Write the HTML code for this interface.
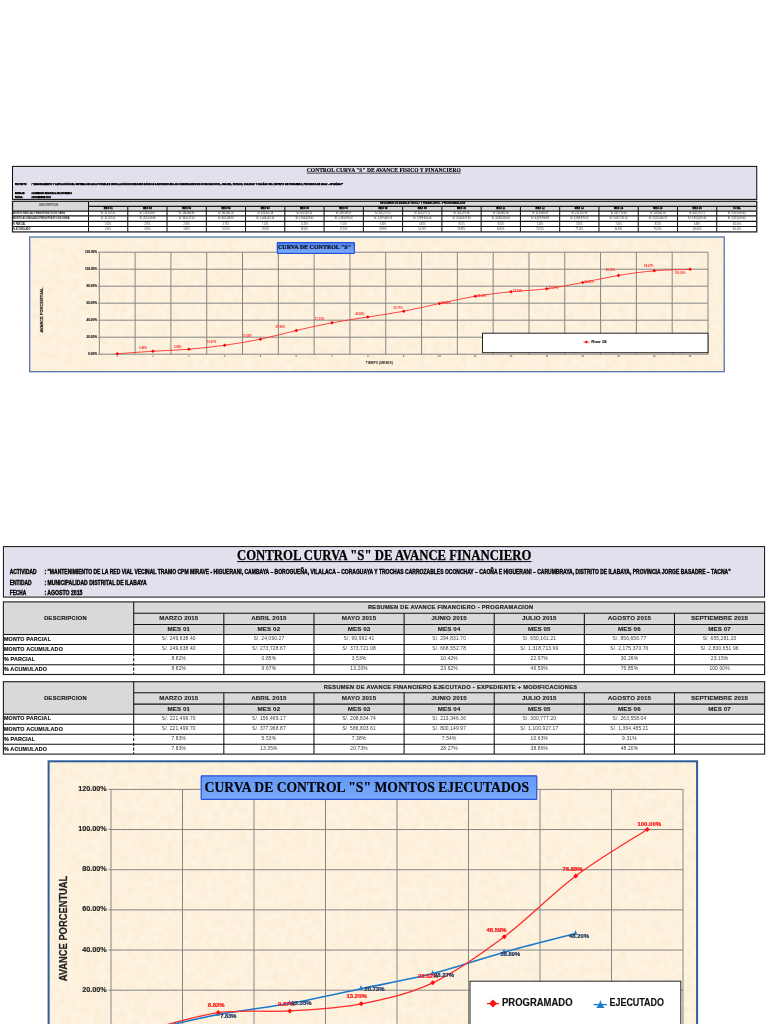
<!DOCTYPE html>
<html lang="es"><head><meta charset="utf-8"><title>CONTROL CURVA "S"</title>
<style>
html,body{margin:0;padding:0;background:#fff;}
body{width:768px;height:1024px;overflow:hidden;position:relative;}
svg{position:absolute;left:0;top:0;display:block;}
.s{font-family:"Liberation Sans", sans-serif;}
.sb{font-family:"Liberation Sans", sans-serif;font-weight:bold;}
.r{font-family:"Liberation Serif", serif;}
.rb{font-family:"Liberation Serif", serif;font-weight:bold;}
</style></head><body>
<svg width="768" height="1024" viewBox="0 0 768 1024">
<defs>
<filter id="tex" x="0" y="0" width="100%" height="100%" color-interpolation-filters="sRGB"><feTurbulence type="fractalNoise" baseFrequency="0.15" numOctaves="3" seed="3"/><feColorMatrix type="matrix" values="0.032 0 0 0 0.976  0.044 0 0 0 0.923  0.06 0 0 0 0.835  0 0 0 0 1"/></filter>
<linearGradient id="tb" x1="0" y1="0" x2="0" y2="1"><stop offset="0" stop-color="#6498F5"/><stop offset="1" stop-color="#78AAFA"/></linearGradient>
<linearGradient id="tb2" x1="0" y1="0" x2="0" y2="1"><stop offset="0" stop-color="#4E84EF"/><stop offset="1" stop-color="#7DAEFB"/></linearGradient>
</defs>
<g id="top-section">
<rect x="12.50" y="166.40" width="744.25" height="33.00" fill="#E4DFEC" stroke="#111" stroke-width="1.05" />
<text class="rb" x="383.80" y="171.90" font-size="5.6" text-anchor="middle" textLength="154.00" lengthAdjust="spacingAndGlyphs"  stroke="#000" stroke-width="0.12">CONTROL CURVA "S" DE AVANCE FISICO Y FINANCIERO</text>
<line x1="306.80" y1="173.15" x2="460.80" y2="173.15" stroke="#111" stroke-width="0.75" />
<text class="sb" x="15.00" y="185.10" font-size="2.7" textLength="11.50" lengthAdjust="spacingAndGlyphs" text-rendering="geometricPrecision" stroke="#000" stroke-width="0.4">PROYECTO</text>
<text class="sb" x="31.00" y="185.10" font-size="2.7" textLength="312.00" lengthAdjust="spacingAndGlyphs" text-rendering="geometricPrecision" stroke="#000" stroke-width="0.4">: "MEJORAMIENTO Y AMPLIACIÓN DEL SISTEMA DE AGUA POTABLE E INSTALACIÓN DE UNIDADES BÁSICAS SANITARIAS EN LAS COMUNIDADES DE CCONCHACCOTA, ANCARA, PATAHUI, CHAHUAY Y HUAÑAC DEL DISTRITO DE PROGRESO, PROVINCIA DE GRAU - APURÍMAC"</text>
<text class="sb" x="15.00" y="193.80" font-size="2.7" textLength="9.50" lengthAdjust="spacingAndGlyphs" text-rendering="geometricPrecision" stroke="#000" stroke-width="0.4">ENTIDAD</text>
<text class="sb" x="31.00" y="193.80" font-size="2.7" textLength="41.00" lengthAdjust="spacingAndGlyphs" text-rendering="geometricPrecision" stroke="#000" stroke-width="0.4">: GOBIERNO REGIONAL DE APURIMAC</text>
<text class="sb" x="15.00" y="198.20" font-size="2.7" textLength="7.50" lengthAdjust="spacingAndGlyphs" text-rendering="geometricPrecision" stroke="#000" stroke-width="0.4">FECHA</text>
<text class="sb" x="31.00" y="198.20" font-size="2.7" textLength="20.00" lengthAdjust="spacingAndGlyphs" text-rendering="geometricPrecision" stroke="#000" stroke-width="0.4">: NOVIEMBRE 2017</text>
<rect x="12.50" y="201.30" width="744.25" height="9.80" fill="#D9D9D9" stroke="none" stroke-width="1" />
<rect x="12.50" y="211.10" width="744.25" height="20.80" fill="#fff" stroke="none" stroke-width="1" />
<line x1="12.50" y1="211.10" x2="756.75" y2="211.10" stroke="#111" stroke-width="1.15" />
<line x1="12.50" y1="215.80" x2="756.75" y2="215.80" stroke="#111" stroke-width="1.15" />
<line x1="12.50" y1="221.30" x2="756.75" y2="221.30" stroke="#111" stroke-width="1.15" />
<line x1="12.50" y1="226.50" x2="756.75" y2="226.50" stroke="#111" stroke-width="1.15" />
<line x1="88.50" y1="206.40" x2="756.75" y2="206.40" stroke="#111" stroke-width="1.15" />
<line x1="88.50" y1="201.30" x2="88.50" y2="231.90" stroke="#111" stroke-width="1.0" />
<line x1="127.77" y1="206.40" x2="127.77" y2="231.90" stroke="#111" stroke-width="1.0" />
<line x1="167.03" y1="206.40" x2="167.03" y2="231.90" stroke="#111" stroke-width="1.0" />
<line x1="206.30" y1="206.40" x2="206.30" y2="231.90" stroke="#111" stroke-width="1.0" />
<line x1="245.56" y1="206.40" x2="245.56" y2="231.90" stroke="#111" stroke-width="1.0" />
<line x1="284.83" y1="206.40" x2="284.83" y2="231.90" stroke="#111" stroke-width="1.0" />
<line x1="324.09" y1="206.40" x2="324.09" y2="231.90" stroke="#111" stroke-width="1.0" />
<line x1="363.36" y1="206.40" x2="363.36" y2="231.90" stroke="#111" stroke-width="1.0" />
<line x1="402.62" y1="206.40" x2="402.62" y2="231.90" stroke="#111" stroke-width="1.0" />
<line x1="441.89" y1="206.40" x2="441.89" y2="231.90" stroke="#111" stroke-width="1.0" />
<line x1="481.16" y1="206.40" x2="481.16" y2="231.90" stroke="#111" stroke-width="1.0" />
<line x1="520.42" y1="206.40" x2="520.42" y2="231.90" stroke="#111" stroke-width="1.0" />
<line x1="559.69" y1="206.40" x2="559.69" y2="231.90" stroke="#111" stroke-width="1.0" />
<line x1="598.95" y1="206.40" x2="598.95" y2="231.90" stroke="#111" stroke-width="1.0" />
<line x1="638.22" y1="206.40" x2="638.22" y2="231.90" stroke="#111" stroke-width="1.0" />
<line x1="677.48" y1="206.40" x2="677.48" y2="231.90" stroke="#111" stroke-width="1.0" />
<line x1="716.75" y1="206.40" x2="716.75" y2="231.90" stroke="#111" stroke-width="1.0" />
<rect x="12.50" y="201.30" width="744.25" height="30.60" fill="none" stroke="#222" stroke-width="1.3" />
<text class="sb" x="48.80" y="206.20" font-size="3" text-anchor="middle" textLength="19.00" lengthAdjust="spacingAndGlyphs" fill="#444" >DESCRIPCION</text>
<text class="sb" x="422.62" y="204.20" font-size="2.9" text-anchor="middle" textLength="85.00" lengthAdjust="spacingAndGlyphs"  stroke="#000" stroke-width="0.2">RESUMEN DE AVANCE FISICO Y FINANCIERO - PROGRAMACION</text>
<text class="sb" x="108.13" y="209.00" font-size="2.8" text-anchor="middle" textLength="9.00" lengthAdjust="spacingAndGlyphs"  stroke="#000" stroke-width="0.25">MES 01</text>
<text class="s" x="108.13" y="213.70" font-size="2.7" text-anchor="middle" textLength="14.69" lengthAdjust="spacingAndGlyphs" fill="#222" >S/. 32,537.01</text>
<text class="s" x="108.13" y="219.40" font-size="2.7" text-anchor="middle" textLength="14.69" lengthAdjust="spacingAndGlyphs" fill="#222" >S/. 32,537.01</text>
<text class="s" x="108.13" y="224.90" font-size="2.7" text-anchor="middle" textLength="6.25" lengthAdjust="spacingAndGlyphs" fill="#333" >0.55%</text>
<text class="s" x="108.13" y="230.30" font-size="2.7" text-anchor="middle" textLength="6.25" lengthAdjust="spacingAndGlyphs" fill="#333" >0.55%</text>
<text class="sb" x="147.40" y="209.00" font-size="2.8" text-anchor="middle" textLength="9.00" lengthAdjust="spacingAndGlyphs"  stroke="#000" stroke-width="0.25">MES 02</text>
<text class="s" x="147.40" y="213.70" font-size="2.7" text-anchor="middle" textLength="15.82" lengthAdjust="spacingAndGlyphs" fill="#222" >S/. 174,516.67</text>
<text class="s" x="147.40" y="219.40" font-size="2.7" text-anchor="middle" textLength="15.82" lengthAdjust="spacingAndGlyphs" fill="#222" >S/. 207,053.68</text>
<text class="s" x="147.40" y="224.90" font-size="2.7" text-anchor="middle" textLength="6.25" lengthAdjust="spacingAndGlyphs" fill="#333" >2.95%</text>
<text class="s" x="147.40" y="230.30" font-size="2.7" text-anchor="middle" textLength="6.25" lengthAdjust="spacingAndGlyphs" fill="#333" >3.50%</text>
<text class="sb" x="186.66" y="209.00" font-size="2.8" text-anchor="middle" textLength="9.00" lengthAdjust="spacingAndGlyphs"  stroke="#000" stroke-width="0.25">MES 03</text>
<text class="s" x="186.66" y="213.70" font-size="2.7" text-anchor="middle" textLength="15.82" lengthAdjust="spacingAndGlyphs" fill="#222" >S/. 136,063.85</text>
<text class="s" x="186.66" y="219.40" font-size="2.7" text-anchor="middle" textLength="15.82" lengthAdjust="spacingAndGlyphs" fill="#222" >S/. 343,117.53</text>
<text class="s" x="186.66" y="224.90" font-size="2.7" text-anchor="middle" textLength="6.25" lengthAdjust="spacingAndGlyphs" fill="#333" >2.30%</text>
<text class="s" x="186.66" y="230.30" font-size="2.7" text-anchor="middle" textLength="6.25" lengthAdjust="spacingAndGlyphs" fill="#333" >5.80%</text>
<text class="sb" x="225.93" y="209.00" font-size="2.8" text-anchor="middle" textLength="9.00" lengthAdjust="spacingAndGlyphs"  stroke="#000" stroke-width="0.25">MES 04</text>
<text class="s" x="225.93" y="213.70" font-size="2.7" text-anchor="middle" textLength="15.82" lengthAdjust="spacingAndGlyphs" fill="#222" >S/. 281,001.42</text>
<text class="s" x="225.93" y="219.40" font-size="2.7" text-anchor="middle" textLength="15.82" lengthAdjust="spacingAndGlyphs" fill="#222" >S/. 624,118.95</text>
<text class="s" x="225.93" y="224.90" font-size="2.7" text-anchor="middle" textLength="6.25" lengthAdjust="spacingAndGlyphs" fill="#333" >4.75%</text>
<text class="s" x="225.93" y="230.30" font-size="2.7" text-anchor="middle" textLength="7.50" lengthAdjust="spacingAndGlyphs" fill="#333" >10.55%</text>
<text class="sb" x="265.20" y="209.00" font-size="2.8" text-anchor="middle" textLength="9.00" lengthAdjust="spacingAndGlyphs"  stroke="#000" stroke-width="0.25">MES 05</text>
<text class="s" x="265.20" y="213.70" font-size="2.7" text-anchor="middle" textLength="15.82" lengthAdjust="spacingAndGlyphs" fill="#222" >S/. 420,023.18</text>
<text class="s" x="265.20" y="219.40" font-size="2.7" text-anchor="middle" textLength="18.08" lengthAdjust="spacingAndGlyphs" fill="#222" >S/. 1,044,142.13</text>
<text class="s" x="265.20" y="224.90" font-size="2.7" text-anchor="middle" textLength="6.25" lengthAdjust="spacingAndGlyphs" fill="#333" >7.10%</text>
<text class="s" x="265.20" y="230.30" font-size="2.7" text-anchor="middle" textLength="7.50" lengthAdjust="spacingAndGlyphs" fill="#333" >17.65%</text>
<text class="sb" x="304.46" y="209.00" font-size="2.8" text-anchor="middle" textLength="9.00" lengthAdjust="spacingAndGlyphs"  stroke="#000" stroke-width="0.25">MES 06</text>
<text class="s" x="304.46" y="213.70" font-size="2.7" text-anchor="middle" textLength="15.82" lengthAdjust="spacingAndGlyphs" fill="#222" >S/. 612,287.31</text>
<text class="s" x="304.46" y="219.40" font-size="2.7" text-anchor="middle" textLength="18.08" lengthAdjust="spacingAndGlyphs" fill="#222" >S/. 1,656,429.45</text>
<text class="s" x="304.46" y="224.90" font-size="2.7" text-anchor="middle" textLength="7.50" lengthAdjust="spacingAndGlyphs" fill="#333" >10.35%</text>
<text class="s" x="304.46" y="230.30" font-size="2.7" text-anchor="middle" textLength="7.50" lengthAdjust="spacingAndGlyphs" fill="#333" >28.00%</text>
<text class="sb" x="343.73" y="209.00" font-size="2.8" text-anchor="middle" textLength="9.00" lengthAdjust="spacingAndGlyphs"  stroke="#000" stroke-width="0.25">MES 07</text>
<text class="s" x="343.73" y="213.70" font-size="2.7" text-anchor="middle" textLength="15.82" lengthAdjust="spacingAndGlyphs" fill="#222" >S/. 538,339.57</text>
<text class="s" x="343.73" y="219.40" font-size="2.7" text-anchor="middle" textLength="18.08" lengthAdjust="spacingAndGlyphs" fill="#222" >S/. 2,194,769.02</text>
<text class="s" x="343.73" y="224.90" font-size="2.7" text-anchor="middle" textLength="6.25" lengthAdjust="spacingAndGlyphs" fill="#333" >9.10%</text>
<text class="s" x="343.73" y="230.30" font-size="2.7" text-anchor="middle" textLength="7.50" lengthAdjust="spacingAndGlyphs" fill="#333" >37.10%</text>
<text class="sb" x="382.99" y="209.00" font-size="2.8" text-anchor="middle" textLength="9.00" lengthAdjust="spacingAndGlyphs"  stroke="#000" stroke-width="0.25">MES 08</text>
<text class="s" x="382.99" y="213.70" font-size="2.7" text-anchor="middle" textLength="15.82" lengthAdjust="spacingAndGlyphs" fill="#222" >S/. 402,275.72</text>
<text class="s" x="382.99" y="219.40" font-size="2.7" text-anchor="middle" textLength="18.08" lengthAdjust="spacingAndGlyphs" fill="#222" >S/. 2,597,044.74</text>
<text class="s" x="382.99" y="224.90" font-size="2.7" text-anchor="middle" textLength="6.25" lengthAdjust="spacingAndGlyphs" fill="#333" >6.80%</text>
<text class="s" x="382.99" y="230.30" font-size="2.7" text-anchor="middle" textLength="7.50" lengthAdjust="spacingAndGlyphs" fill="#333" >43.90%</text>
<text class="sb" x="422.26" y="209.00" font-size="2.8" text-anchor="middle" textLength="9.00" lengthAdjust="spacingAndGlyphs"  stroke="#000" stroke-width="0.25">MES 09</text>
<text class="s" x="422.26" y="213.70" font-size="2.7" text-anchor="middle" textLength="15.82" lengthAdjust="spacingAndGlyphs" fill="#222" >S/. 402,275.72</text>
<text class="s" x="422.26" y="219.40" font-size="2.7" text-anchor="middle" textLength="18.08" lengthAdjust="spacingAndGlyphs" fill="#222" >S/. 2,999,320.46</text>
<text class="s" x="422.26" y="224.90" font-size="2.7" text-anchor="middle" textLength="6.25" lengthAdjust="spacingAndGlyphs" fill="#333" >6.80%</text>
<text class="s" x="422.26" y="230.30" font-size="2.7" text-anchor="middle" textLength="7.50" lengthAdjust="spacingAndGlyphs" fill="#333" >50.70%</text>
<text class="sb" x="461.52" y="209.00" font-size="2.8" text-anchor="middle" textLength="9.00" lengthAdjust="spacingAndGlyphs"  stroke="#000" stroke-width="0.25">MES 10</text>
<text class="s" x="461.52" y="213.70" font-size="2.7" text-anchor="middle" textLength="15.82" lengthAdjust="spacingAndGlyphs" fill="#222" >S/. 541,297.48</text>
<text class="s" x="461.52" y="219.40" font-size="2.7" text-anchor="middle" textLength="18.08" lengthAdjust="spacingAndGlyphs" fill="#222" >S/. 3,540,617.94</text>
<text class="s" x="461.52" y="224.90" font-size="2.7" text-anchor="middle" textLength="6.25" lengthAdjust="spacingAndGlyphs" fill="#333" >9.15%</text>
<text class="s" x="461.52" y="230.30" font-size="2.7" text-anchor="middle" textLength="7.50" lengthAdjust="spacingAndGlyphs" fill="#333" >59.85%</text>
<text class="sb" x="500.79" y="209.00" font-size="2.8" text-anchor="middle" textLength="9.00" lengthAdjust="spacingAndGlyphs"  stroke="#000" stroke-width="0.25">MES 11</text>
<text class="s" x="500.79" y="213.70" font-size="2.7" text-anchor="middle" textLength="15.82" lengthAdjust="spacingAndGlyphs" fill="#222" >S/. 505,802.56</text>
<text class="s" x="500.79" y="219.40" font-size="2.7" text-anchor="middle" textLength="18.08" lengthAdjust="spacingAndGlyphs" fill="#222" >S/. 4,046,420.50</text>
<text class="s" x="500.79" y="224.90" font-size="2.7" text-anchor="middle" textLength="6.25" lengthAdjust="spacingAndGlyphs" fill="#333" >8.55%</text>
<text class="s" x="500.79" y="230.30" font-size="2.7" text-anchor="middle" textLength="7.50" lengthAdjust="spacingAndGlyphs" fill="#333" >68.40%</text>
<text class="sb" x="540.05" y="209.00" font-size="2.8" text-anchor="middle" textLength="9.00" lengthAdjust="spacingAndGlyphs"  stroke="#000" stroke-width="0.25">MES 12</text>
<text class="s" x="540.05" y="213.70" font-size="2.7" text-anchor="middle" textLength="15.82" lengthAdjust="spacingAndGlyphs" fill="#222" >S/. 313,538.43</text>
<text class="s" x="540.05" y="219.40" font-size="2.7" text-anchor="middle" textLength="18.08" lengthAdjust="spacingAndGlyphs" fill="#222" >S/. 4,359,958.93</text>
<text class="s" x="540.05" y="224.90" font-size="2.7" text-anchor="middle" textLength="6.25" lengthAdjust="spacingAndGlyphs" fill="#333" >5.30%</text>
<text class="s" x="540.05" y="230.30" font-size="2.7" text-anchor="middle" textLength="7.50" lengthAdjust="spacingAndGlyphs" fill="#333" >73.70%</text>
<text class="sb" x="579.32" y="209.00" font-size="2.8" text-anchor="middle" textLength="9.00" lengthAdjust="spacingAndGlyphs"  stroke="#000" stroke-width="0.25">MES 13</text>
<text class="s" x="579.32" y="213.70" font-size="2.7" text-anchor="middle" textLength="15.82" lengthAdjust="spacingAndGlyphs" fill="#222" >S/. 210,011.59</text>
<text class="s" x="579.32" y="219.40" font-size="2.7" text-anchor="middle" textLength="18.08" lengthAdjust="spacingAndGlyphs" fill="#222" >S/. 4,569,970.53</text>
<text class="s" x="579.32" y="224.90" font-size="2.7" text-anchor="middle" textLength="6.25" lengthAdjust="spacingAndGlyphs" fill="#333" >3.55%</text>
<text class="s" x="579.32" y="230.30" font-size="2.7" text-anchor="middle" textLength="7.50" lengthAdjust="spacingAndGlyphs" fill="#333" >77.25%</text>
<text class="sb" x="618.59" y="209.00" font-size="2.8" text-anchor="middle" textLength="9.00" lengthAdjust="spacingAndGlyphs"  stroke="#000" stroke-width="0.25">MES 14</text>
<text class="s" x="618.59" y="213.70" font-size="2.7" text-anchor="middle" textLength="15.82" lengthAdjust="spacingAndGlyphs" fill="#222" >S/. 437,770.64</text>
<text class="s" x="618.59" y="219.40" font-size="2.7" text-anchor="middle" textLength="18.08" lengthAdjust="spacingAndGlyphs" fill="#222" >S/. 5,007,741.16</text>
<text class="s" x="618.59" y="224.90" font-size="2.7" text-anchor="middle" textLength="6.25" lengthAdjust="spacingAndGlyphs" fill="#333" >7.40%</text>
<text class="s" x="618.59" y="230.30" font-size="2.7" text-anchor="middle" textLength="7.50" lengthAdjust="spacingAndGlyphs" fill="#333" >84.65%</text>
<text class="sb" x="657.85" y="209.00" font-size="2.8" text-anchor="middle" textLength="9.00" lengthAdjust="spacingAndGlyphs"  stroke="#000" stroke-width="0.25">MES 15</text>
<text class="s" x="657.85" y="213.70" font-size="2.7" text-anchor="middle" textLength="15.82" lengthAdjust="spacingAndGlyphs" fill="#222" >S/. 505,802.56</text>
<text class="s" x="657.85" y="219.40" font-size="2.7" text-anchor="middle" textLength="18.08" lengthAdjust="spacingAndGlyphs" fill="#222" >S/. 5,513,543.73</text>
<text class="s" x="657.85" y="224.90" font-size="2.7" text-anchor="middle" textLength="6.25" lengthAdjust="spacingAndGlyphs" fill="#333" >8.55%</text>
<text class="s" x="657.85" y="230.30" font-size="2.7" text-anchor="middle" textLength="7.50" lengthAdjust="spacingAndGlyphs" fill="#333" >93.20%</text>
<text class="sb" x="697.12" y="209.00" font-size="2.8" text-anchor="middle" textLength="9.00" lengthAdjust="spacingAndGlyphs"  stroke="#000" stroke-width="0.25">MES 16</text>
<text class="s" x="697.12" y="213.70" font-size="2.7" text-anchor="middle" textLength="15.82" lengthAdjust="spacingAndGlyphs" fill="#222" >S/. 402,275.72</text>
<text class="s" x="697.12" y="219.40" font-size="2.7" text-anchor="middle" textLength="18.08" lengthAdjust="spacingAndGlyphs" fill="#222" >S/. 5,915,819.45</text>
<text class="s" x="697.12" y="224.90" font-size="2.7" text-anchor="middle" textLength="6.25" lengthAdjust="spacingAndGlyphs" fill="#333" >6.80%</text>
<text class="s" x="697.12" y="230.30" font-size="2.7" text-anchor="middle" textLength="8.75" lengthAdjust="spacingAndGlyphs" fill="#333" >100.00%</text>
<text class="sb" x="736.75" y="209.00" font-size="2.8" text-anchor="middle" textLength="8.00" lengthAdjust="spacingAndGlyphs"  stroke="#000" stroke-width="0.25">TOTAL</text>
<text class="s" x="736.75" y="213.70" font-size="2.7" text-anchor="middle" textLength="18.08" lengthAdjust="spacingAndGlyphs" fill="#222" >S/. 5,915,819.45</text>
<text class="s" x="736.75" y="219.40" font-size="2.7" text-anchor="middle" textLength="18.08" lengthAdjust="spacingAndGlyphs" fill="#222" >S/. 5,915,819.45</text>
<text class="s" x="736.75" y="224.90" font-size="2.7" text-anchor="middle" textLength="8.75" lengthAdjust="spacingAndGlyphs" fill="#333" >100.00%</text>
<text class="s" x="736.75" y="230.30" font-size="2.7" text-anchor="middle" textLength="8.75" lengthAdjust="spacingAndGlyphs" fill="#333" >100.00%</text>
<text class="sb" x="13.00" y="213.70" font-size="2.8" textLength="52.00" lengthAdjust="spacingAndGlyphs" fill="#222" >MONTO PARCIAL PRESUPUESTO DE OBRA</text>
<text class="sb" x="13.00" y="219.40" font-size="2.8" textLength="56.50" lengthAdjust="spacingAndGlyphs" fill="#222" >MONTO ACUMULADO PRESUPUESTO DE OBRA</text>
<text class="sb" x="13.00" y="224.90" font-size="2.8" textLength="12.50" lengthAdjust="spacingAndGlyphs" fill="#222" >% PARCIAL</text>
<text class="sb" x="13.00" y="230.30" font-size="2.8" textLength="17.50" lengthAdjust="spacingAndGlyphs" fill="#222" >% ACUMULADO</text>
<rect x="29.70" y="237.00" width="694.50" height="134.70" fill="#FDF1DC" stroke="none" stroke-width="1" />
<rect x="29.70" y="237.00" width="694.50" height="134.70" fill="#fff" stroke="none" stroke-width="0" filter="url(#tex)"/>
<rect x="29.70" y="237.00" width="694.50" height="134.70" fill="none" stroke="#4C72A8" stroke-width="1.25" />
<line x1="98.10" y1="252.20" x2="708.00" y2="252.20" stroke="#868686" stroke-width="1.0" />
<text class="sb" x="97.00" y="253.30" font-size="3" text-anchor="end" textLength="12.00" lengthAdjust="spacingAndGlyphs" fill="#333"  stroke="#333" stroke-width="0.15">120.00%</text>
<line x1="98.10" y1="269.20" x2="708.00" y2="269.20" stroke="#868686" stroke-width="1.0" />
<text class="sb" x="97.00" y="270.30" font-size="3" text-anchor="end" textLength="12.00" lengthAdjust="spacingAndGlyphs" fill="#333"  stroke="#333" stroke-width="0.15">100.00%</text>
<line x1="98.10" y1="286.20" x2="708.00" y2="286.20" stroke="#868686" stroke-width="1.0" />
<text class="sb" x="97.00" y="287.30" font-size="3" text-anchor="end" textLength="10.50" lengthAdjust="spacingAndGlyphs" fill="#333"  stroke="#333" stroke-width="0.15">80.00%</text>
<line x1="98.10" y1="303.20" x2="708.00" y2="303.20" stroke="#868686" stroke-width="1.0" />
<text class="sb" x="97.00" y="304.30" font-size="3" text-anchor="end" textLength="10.50" lengthAdjust="spacingAndGlyphs" fill="#333"  stroke="#333" stroke-width="0.15">60.00%</text>
<line x1="98.10" y1="320.20" x2="708.00" y2="320.20" stroke="#868686" stroke-width="1.0" />
<text class="sb" x="97.00" y="321.30" font-size="3" text-anchor="end" textLength="10.50" lengthAdjust="spacingAndGlyphs" fill="#333"  stroke="#333" stroke-width="0.15">40.00%</text>
<line x1="98.10" y1="337.20" x2="708.00" y2="337.20" stroke="#868686" stroke-width="1.0" />
<text class="sb" x="97.00" y="338.30" font-size="3" text-anchor="end" textLength="10.50" lengthAdjust="spacingAndGlyphs" fill="#333"  stroke="#333" stroke-width="0.15">20.00%</text>
<line x1="98.10" y1="354.20" x2="708.00" y2="354.20" stroke="#868686" stroke-width="1.0" />
<text class="sb" x="97.00" y="355.30" font-size="3" text-anchor="end" textLength="9.00" lengthAdjust="spacingAndGlyphs" fill="#333"  stroke="#333" stroke-width="0.15">0.00%</text>
<line x1="99.30" y1="252.20" x2="99.30" y2="354.60" stroke="#868686" stroke-width="1.0" />
<line x1="135.11" y1="252.20" x2="135.11" y2="354.60" stroke="#868686" stroke-width="1.0" />
<line x1="170.91" y1="252.20" x2="170.91" y2="354.60" stroke="#868686" stroke-width="1.0" />
<line x1="206.72" y1="252.20" x2="206.72" y2="354.60" stroke="#868686" stroke-width="1.0" />
<line x1="242.52" y1="252.20" x2="242.52" y2="354.60" stroke="#868686" stroke-width="1.0" />
<line x1="278.33" y1="252.20" x2="278.33" y2="354.60" stroke="#868686" stroke-width="1.0" />
<line x1="314.14" y1="252.20" x2="314.14" y2="354.60" stroke="#868686" stroke-width="1.0" />
<line x1="349.94" y1="252.20" x2="349.94" y2="354.60" stroke="#868686" stroke-width="1.0" />
<line x1="385.75" y1="252.20" x2="385.75" y2="354.60" stroke="#868686" stroke-width="1.0" />
<line x1="421.55" y1="252.20" x2="421.55" y2="354.60" stroke="#868686" stroke-width="1.0" />
<line x1="457.36" y1="252.20" x2="457.36" y2="354.60" stroke="#868686" stroke-width="1.0" />
<line x1="493.16" y1="252.20" x2="493.16" y2="354.60" stroke="#868686" stroke-width="1.0" />
<line x1="528.97" y1="252.20" x2="528.97" y2="354.60" stroke="#868686" stroke-width="1.0" />
<line x1="564.78" y1="252.20" x2="564.78" y2="354.60" stroke="#868686" stroke-width="1.0" />
<line x1="600.58" y1="252.20" x2="600.58" y2="354.60" stroke="#868686" stroke-width="1.0" />
<line x1="636.39" y1="252.20" x2="636.39" y2="354.60" stroke="#868686" stroke-width="1.0" />
<line x1="672.19" y1="252.20" x2="672.19" y2="354.60" stroke="#868686" stroke-width="1.0" />
<line x1="708.00" y1="252.20" x2="708.00" y2="354.60" stroke="#868686" stroke-width="1.0" />
<text class="sb" x="117.20" y="357.10" font-size="2.4" text-anchor="middle" fill="#444" text-rendering="geometricPrecision">1</text>
<text class="sb" x="153.01" y="357.10" font-size="2.4" text-anchor="middle" fill="#444" text-rendering="geometricPrecision">2</text>
<text class="sb" x="188.81" y="357.10" font-size="2.4" text-anchor="middle" fill="#444" text-rendering="geometricPrecision">3</text>
<text class="sb" x="224.62" y="357.10" font-size="2.4" text-anchor="middle" fill="#444" text-rendering="geometricPrecision">4</text>
<text class="sb" x="260.43" y="357.10" font-size="2.4" text-anchor="middle" fill="#444" text-rendering="geometricPrecision">5</text>
<text class="sb" x="296.23" y="357.10" font-size="2.4" text-anchor="middle" fill="#444" text-rendering="geometricPrecision">6</text>
<text class="sb" x="332.04" y="357.10" font-size="2.4" text-anchor="middle" fill="#444" text-rendering="geometricPrecision">7</text>
<text class="sb" x="367.84" y="357.10" font-size="2.4" text-anchor="middle" fill="#444" text-rendering="geometricPrecision">8</text>
<text class="sb" x="403.65" y="357.10" font-size="2.4" text-anchor="middle" fill="#444" text-rendering="geometricPrecision">9</text>
<text class="sb" x="439.46" y="357.10" font-size="2.4" text-anchor="middle" fill="#444" text-rendering="geometricPrecision">10</text>
<text class="sb" x="475.26" y="357.10" font-size="2.4" text-anchor="middle" fill="#444" text-rendering="geometricPrecision">11</text>
<text class="sb" x="511.07" y="357.10" font-size="2.4" text-anchor="middle" fill="#444" text-rendering="geometricPrecision">12</text>
<text class="sb" x="546.87" y="357.10" font-size="2.4" text-anchor="middle" fill="#444" text-rendering="geometricPrecision">13</text>
<text class="sb" x="582.68" y="357.10" font-size="2.4" text-anchor="middle" fill="#444" text-rendering="geometricPrecision">14</text>
<text class="sb" x="618.49" y="357.10" font-size="2.4" text-anchor="middle" fill="#444" text-rendering="geometricPrecision">15</text>
<text class="sb" x="654.29" y="357.10" font-size="2.4" text-anchor="middle" fill="#444" text-rendering="geometricPrecision">16</text>
<text class="sb" x="690.10" y="357.10" font-size="2.4" text-anchor="middle" fill="#444" text-rendering="geometricPrecision">17</text>
<text class="sb" x="379.30" y="363.80" font-size="3.2" text-anchor="middle" textLength="27.00" lengthAdjust="spacingAndGlyphs" fill="#222" >TIEMPO (MESES)</text>
<text class="sb" font-size="3.8" fill="#222" stroke="#222" stroke-width="0.2" text-anchor="middle" textLength="45" lengthAdjust="spacingAndGlyphs" transform="translate(42.8,310) rotate(-90)">AVANCE PORCENTUAL</text>
<rect x="482.50" y="333.20" width="225.50" height="19.50" fill="#fff" stroke="#222" stroke-width="1.0" />
<rect x="277.30" y="242.70" width="77.10" height="10.70" fill="url(#tb2)" stroke="#2450DA" stroke-width="1.2" rx="0.6"/>
<text class="rb" x="278.00" y="248.70" font-size="6.2" textLength="73.00" lengthAdjust="spacingAndGlyphs" fill="#0a0a14"  stroke="#0a0a14" stroke-width="0.18">CURVA DE CONTROL "S"</text>
<path d="M117.20,353.75 C123.17,353.33 141.07,352.00 153.01,351.25 C164.94,350.50 176.88,350.25 188.81,349.25 C200.75,348.25 212.69,346.92 224.62,345.25 C236.56,343.58 248.49,341.71 260.43,339.25 C272.36,336.79 284.30,333.25 296.23,330.50 C308.17,327.75 320.10,325.00 332.04,322.75 C343.97,320.50 355.91,318.92 367.84,317.00 C379.78,315.08 391.71,313.50 403.65,311.25 C415.59,309.00 427.52,306.00 439.46,303.50 C451.39,301.00 463.33,298.21 475.26,296.25 C487.20,294.29 499.13,293.00 511.07,291.75 C523.00,290.50 534.94,290.29 546.87,288.75 C558.81,287.21 570.74,284.73 582.68,282.50 C594.61,280.27 606.55,277.35 618.49,275.40 C630.42,273.45 642.36,271.82 654.29,270.80 C666.23,269.78 684.13,269.55 690.10,269.30" fill="none" stroke="#FF1A1A" stroke-width="0.8"/>
<path d="M117.20,351.95 L119.00,353.75 L117.20,355.55 L115.40,353.75Z" fill="#FF0000"/>
<path d="M153.01,349.45 L154.81,351.25 L153.01,353.05 L151.21,351.25Z" fill="#FF0000"/>
<path d="M188.81,347.45 L190.61,349.25 L188.81,351.05 L187.01,349.25Z" fill="#FF0000"/>
<path d="M224.62,343.45 L226.42,345.25 L224.62,347.05 L222.82,345.25Z" fill="#FF0000"/>
<path d="M260.43,337.45 L262.23,339.25 L260.43,341.05 L258.63,339.25Z" fill="#FF0000"/>
<path d="M296.23,328.70 L298.03,330.50 L296.23,332.30 L294.43,330.50Z" fill="#FF0000"/>
<path d="M332.04,320.95 L333.84,322.75 L332.04,324.55 L330.24,322.75Z" fill="#FF0000"/>
<path d="M367.84,315.20 L369.64,317.00 L367.84,318.80 L366.04,317.00Z" fill="#FF0000"/>
<path d="M403.65,309.45 L405.45,311.25 L403.65,313.05 L401.85,311.25Z" fill="#FF0000"/>
<path d="M439.46,301.70 L441.26,303.50 L439.46,305.30 L437.66,303.50Z" fill="#FF0000"/>
<path d="M475.26,294.45 L477.06,296.25 L475.26,298.05 L473.46,296.25Z" fill="#FF0000"/>
<path d="M511.07,289.95 L512.87,291.75 L511.07,293.55 L509.27,291.75Z" fill="#FF0000"/>
<path d="M546.87,286.95 L548.67,288.75 L546.87,290.55 L545.07,288.75Z" fill="#FF0000"/>
<path d="M582.68,280.70 L584.48,282.50 L582.68,284.30 L580.88,282.50Z" fill="#FF0000"/>
<path d="M618.49,273.60 L620.29,275.40 L618.49,277.20 L616.69,275.40Z" fill="#FF0000"/>
<path d="M654.29,269.00 L656.09,270.80 L654.29,272.60 L652.49,270.80Z" fill="#FF0000"/>
<path d="M690.10,267.50 L691.90,269.30 L690.10,271.10 L688.30,269.30Z" fill="#FF0000"/>
<text class="sb" x="143.01" y="348.90" font-size="2.6" text-anchor="middle" textLength="7.75" lengthAdjust="spacingAndGlyphs" fill="#FF2828" >3.48%</text>
<text class="sb" x="177.81" y="347.90" font-size="2.6" text-anchor="middle" textLength="7.75" lengthAdjust="spacingAndGlyphs" fill="#FF2828" >5.84%</text>
<text class="sb" x="211.62" y="342.90" font-size="2.6" text-anchor="middle" textLength="9.30" lengthAdjust="spacingAndGlyphs" fill="#FF2828" >10.57%</text>
<text class="sb" x="247.18" y="337.40" font-size="2.6" text-anchor="middle" textLength="9.30" lengthAdjust="spacingAndGlyphs" fill="#FF2828" >17.65%</text>
<text class="sb" x="280.23" y="328.40" font-size="2.6" text-anchor="middle" textLength="9.30" lengthAdjust="spacingAndGlyphs" fill="#FF2828" >27.98%</text>
<text class="sb" x="319.54" y="320.40" font-size="2.6" text-anchor="middle" textLength="9.30" lengthAdjust="spacingAndGlyphs" fill="#FF2828" >37.13%</text>
<text class="sb" x="359.84" y="315.40" font-size="2.6" text-anchor="middle" textLength="9.30" lengthAdjust="spacingAndGlyphs" fill="#FF2828" >43.92%</text>
<text class="sb" x="398.15" y="308.90" font-size="2.6" text-anchor="middle" textLength="9.30" lengthAdjust="spacingAndGlyphs" fill="#FF2828" >50.71%</text>
<text class="sb" x="445.96" y="304.20" font-size="2.6" text-anchor="middle" textLength="9.30" lengthAdjust="spacingAndGlyphs" fill="#FF2828" >59.86%</text>
<text class="sb" x="481.76" y="296.95" font-size="2.6" text-anchor="middle" textLength="9.30" lengthAdjust="spacingAndGlyphs" fill="#FF2828" >68.42%</text>
<text class="sb" x="517.57" y="292.45" font-size="2.6" text-anchor="middle" textLength="9.30" lengthAdjust="spacingAndGlyphs" fill="#FF2828" >73.73%</text>
<text class="sb" x="553.37" y="289.45" font-size="2.6" text-anchor="middle" textLength="9.30" lengthAdjust="spacingAndGlyphs" fill="#FF2828" >77.27%</text>
<text class="sb" x="589.18" y="283.20" font-size="2.6" text-anchor="middle" textLength="9.30" lengthAdjust="spacingAndGlyphs" fill="#FF2828" >84.65%</text>
<text class="sb" x="610.49" y="270.90" font-size="2.6" text-anchor="middle" textLength="9.30" lengthAdjust="spacingAndGlyphs" fill="#FF2828" >93.03%</text>
<text class="sb" x="648.79" y="266.70" font-size="2.6" text-anchor="middle" textLength="9.30" lengthAdjust="spacingAndGlyphs" fill="#FF2828" >98.47%</text>
<text class="sb" x="680.10" y="274.00" font-size="2.6" text-anchor="middle" textLength="10.85" lengthAdjust="spacingAndGlyphs" fill="#FF2828" >100.00%</text>
<line x1="583.40" y1="342.10" x2="589.40" y2="342.10" stroke="#FF0000" stroke-width="0.7" />
<path d="M586.40,340.60 L587.90,342.10 L586.40,343.60 L584.90,342.10Z" fill="#FF0000"/>
<text class="sb" x="591.20" y="343.20" font-size="4.2" textLength="15.50" lengthAdjust="spacingAndGlyphs" fill="#222"  stroke="#222" stroke-width="0.15">Row 16</text>
</g>
<g id="bottom-section">
<rect x="3.40" y="546.60" width="761.20" height="50.50" fill="#E4DFEC" stroke="#111" stroke-width="1.0" />
<text class="rb" x="384.20" y="559.80" font-size="13.6" text-anchor="middle" textLength="294.50" lengthAdjust="spacingAndGlyphs"  stroke="#000" stroke-width="0.25">CONTROL CURVA "S" DE AVANCE FINANCIERO</text>
<line x1="237.00" y1="561.60" x2="531.50" y2="561.60" stroke="#000" stroke-width="1.0" />
<text class="sb" x="9.75" y="574.30" font-size="6.4" textLength="26.80" lengthAdjust="spacingAndGlyphs"  stroke="#000" stroke-width="0.38">ACTIVIDAD</text>
<text class="sb" x="44.40" y="574.30" font-size="6.4" textLength="686.20" lengthAdjust="spacingAndGlyphs"  stroke="#000" stroke-width="0.38">: "MANTENIMIENTO DE LA RED VIAL VECINAL TRAMO CPM MIRAVE - HIGUERANI, CAMBAYA – BOROGUEÑA, VILALACA – CORAGUAYA Y TROCHAS CARROZABLES OCONCHAY – CAOÑA E HIGUERANI – CARUMBRAYA, DISTRITO DE ILABAYA, PROVINCIA JORGE BASADRE – TACNA"</text>
<text class="sb" x="9.75" y="585.00" font-size="6.4" textLength="21.80" lengthAdjust="spacingAndGlyphs"  stroke="#000" stroke-width="0.38">ENTIDAD</text>
<text class="sb" x="44.40" y="585.00" font-size="6.4" textLength="102.30" lengthAdjust="spacingAndGlyphs"  stroke="#000" stroke-width="0.38">: MUNICIPALIDAD DISTRITAL DE ILABAYA</text>
<text class="sb" x="9.75" y="595.20" font-size="6.4" textLength="16.50" lengthAdjust="spacingAndGlyphs"  stroke="#000" stroke-width="0.38">FECHA</text>
<text class="sb" x="44.40" y="595.20" font-size="6.4" textLength="38.00" lengthAdjust="spacingAndGlyphs"  stroke="#000" stroke-width="0.38">: AGOSTO 2015</text>
<rect x="3.40" y="601.90" width="761.20" height="32.55" fill="#D9D9D9" stroke="none" stroke-width="1" />
<rect x="3.40" y="634.45" width="761.20" height="40.05" fill="#fff" stroke="none" stroke-width="1" />
<line x1="3.40" y1="634.45" x2="764.60" y2="634.45" stroke="#111" stroke-width="1.05" />
<line x1="3.40" y1="644.45" x2="764.60" y2="644.45" stroke="#111" stroke-width="1.05" />
<line x1="3.40" y1="654.40" x2="764.60" y2="654.40" stroke="#111" stroke-width="1.05" />
<line x1="3.40" y1="664.70" x2="764.60" y2="664.70" stroke="#111" stroke-width="1.05" />
<line x1="133.70" y1="613.20" x2="764.60" y2="613.20" stroke="#111" stroke-width="1.05" />
<line x1="133.70" y1="624.45" x2="764.60" y2="624.45" stroke="#111" stroke-width="1.05" />
<line x1="133.70" y1="601.90" x2="133.70" y2="654.40" stroke="#111" stroke-width="1.05" />
<line x1="133.70" y1="654.40" x2="133.70" y2="674.50" stroke="#111" stroke-width="1.05" stroke-dasharray="3.2 1.6" stroke-dashoffset="1.2"/>
<line x1="223.83" y1="613.20" x2="223.83" y2="674.50" stroke="#111" stroke-width="1.05" />
<line x1="313.96" y1="613.20" x2="313.96" y2="674.50" stroke="#111" stroke-width="1.05" />
<line x1="404.09" y1="613.20" x2="404.09" y2="674.50" stroke="#111" stroke-width="1.05" />
<line x1="494.21" y1="613.20" x2="494.21" y2="674.50" stroke="#111" stroke-width="1.05" />
<line x1="584.34" y1="613.20" x2="584.34" y2="674.50" stroke="#111" stroke-width="1.05" />
<line x1="674.47" y1="613.20" x2="674.47" y2="674.50" stroke="#111" stroke-width="1.05" />
<rect x="3.40" y="601.90" width="761.20" height="72.60" fill="none" stroke="#222" stroke-width="1.15" />
<text class="sb" x="65.55" y="619.77" font-size="5.7" text-anchor="middle" fill="#222" letter-spacing="0.3" stroke="#222" stroke-width="0.2">DESCRIPCION</text>
<text class="sb" x="450.65" y="609.15" font-size="5.7" text-anchor="middle" fill="#222" letter-spacing="0.3" stroke="#222" stroke-width="0.2">RESUMEN DE AVANCE FINANCIERO - PROGRAMACION</text>
<text class="sb" x="178.76" y="620.33" font-size="6.2" text-anchor="middle" fill="#222" letter-spacing="0.1" stroke="#222" stroke-width="0.12">MARZO 2015</text>
<text class="sb" x="178.76" y="631.05" font-size="6.2" text-anchor="middle" fill="#222" letter-spacing="0.1" stroke="#222" stroke-width="0.12">MES 01</text>
<text class="sb" x="268.89" y="620.33" font-size="6.2" text-anchor="middle" fill="#222" letter-spacing="0.1" stroke="#222" stroke-width="0.12">ABRIL 2015</text>
<text class="sb" x="268.89" y="631.05" font-size="6.2" text-anchor="middle" fill="#222" letter-spacing="0.1" stroke="#222" stroke-width="0.12">MES 02</text>
<text class="sb" x="359.02" y="620.33" font-size="6.2" text-anchor="middle" fill="#222" letter-spacing="0.1" stroke="#222" stroke-width="0.12">MAYO 2015</text>
<text class="sb" x="359.02" y="631.05" font-size="6.2" text-anchor="middle" fill="#222" letter-spacing="0.1" stroke="#222" stroke-width="0.12">MES 03</text>
<text class="sb" x="449.15" y="620.33" font-size="6.2" text-anchor="middle" fill="#222" letter-spacing="0.1" stroke="#222" stroke-width="0.12">JUNIO 2015</text>
<text class="sb" x="449.15" y="631.05" font-size="6.2" text-anchor="middle" fill="#222" letter-spacing="0.1" stroke="#222" stroke-width="0.12">MES 04</text>
<text class="sb" x="539.28" y="620.33" font-size="6.2" text-anchor="middle" fill="#222" letter-spacing="0.1" stroke="#222" stroke-width="0.12">JULIO 2015</text>
<text class="sb" x="539.28" y="631.05" font-size="6.2" text-anchor="middle" fill="#222" letter-spacing="0.1" stroke="#222" stroke-width="0.12">MES 05</text>
<text class="sb" x="629.41" y="620.33" font-size="6.2" text-anchor="middle" fill="#222" letter-spacing="0.1" stroke="#222" stroke-width="0.12">AGOSTO 2015</text>
<text class="sb" x="629.41" y="631.05" font-size="6.2" text-anchor="middle" fill="#222" letter-spacing="0.1" stroke="#222" stroke-width="0.12">MES 06</text>
<text class="sb" x="719.54" y="620.33" font-size="6.2" text-anchor="middle" fill="#222" letter-spacing="0.1" stroke="#222" stroke-width="0.12">SEPTIEMBRE 2015</text>
<text class="sb" x="719.54" y="631.05" font-size="6.2" text-anchor="middle" fill="#222" letter-spacing="0.1" stroke="#222" stroke-width="0.12">MES 07</text>
<text class="sb" x="3.90" y="640.55" font-size="5.35" fill="#111" letter-spacing="0.2" stroke="#111" stroke-width="0.15">MONTO PARCIAL</text>
<text class="s" x="178.76" y="639.90" font-size="4.9" text-anchor="middle" fill="#3a3a3a" letter-spacing="0.14">S/. 249,638.40</text>
<text class="s" x="268.89" y="639.90" font-size="4.9" text-anchor="middle" fill="#3a3a3a" letter-spacing="0.14">S/. 24,090.27</text>
<text class="s" x="359.02" y="639.90" font-size="4.9" text-anchor="middle" fill="#3a3a3a" letter-spacing="0.14">S/. 99,992.41</text>
<text class="s" x="449.15" y="639.90" font-size="4.9" text-anchor="middle" fill="#3a3a3a" letter-spacing="0.14">S/. 294,831.70</text>
<text class="s" x="539.28" y="639.90" font-size="4.9" text-anchor="middle" fill="#3a3a3a" letter-spacing="0.14">S/. 650,161.21</text>
<text class="s" x="629.41" y="639.90" font-size="4.9" text-anchor="middle" fill="#3a3a3a" letter-spacing="0.14">S/. 856,656.77</text>
<text class="s" x="719.54" y="639.90" font-size="4.9" text-anchor="middle" fill="#3a3a3a" letter-spacing="0.14">S/. 655,281.20</text>
<text class="sb" x="3.90" y="651.12" font-size="5.35" fill="#111" letter-spacing="0.2" stroke="#111" stroke-width="0.15">MONTO ACUMULADO</text>
<text class="s" x="178.76" y="649.88" font-size="4.9" text-anchor="middle" fill="#3a3a3a" letter-spacing="0.14">S/. 249,638.40</text>
<text class="s" x="268.89" y="649.88" font-size="4.9" text-anchor="middle" fill="#3a3a3a" letter-spacing="0.14">S/. 273,728.67</text>
<text class="s" x="359.02" y="649.88" font-size="4.9" text-anchor="middle" fill="#3a3a3a" letter-spacing="0.14">S/. 373,721.08</text>
<text class="s" x="449.15" y="649.88" font-size="4.9" text-anchor="middle" fill="#3a3a3a" letter-spacing="0.14">S/. 668,552.78</text>
<text class="s" x="539.28" y="649.88" font-size="4.9" text-anchor="middle" fill="#3a3a3a" letter-spacing="0.14">S/. 1,318,713.99</text>
<text class="s" x="629.41" y="649.88" font-size="4.9" text-anchor="middle" fill="#3a3a3a" letter-spacing="0.14">S/. 2,175,370.76</text>
<text class="s" x="719.54" y="649.88" font-size="4.9" text-anchor="middle" fill="#3a3a3a" letter-spacing="0.14">S/. 2,830,651.96</text>
<text class="sb" x="3.90" y="661.25" font-size="5.35" fill="#111" letter-spacing="0.2" stroke="#111" stroke-width="0.15">% PARCIAL</text>
<text class="s" x="178.76" y="660.00" font-size="4.9" text-anchor="middle" fill="#3a3a3a" letter-spacing="0.14">8.82%</text>
<text class="s" x="268.89" y="660.00" font-size="4.9" text-anchor="middle" fill="#3a3a3a" letter-spacing="0.14">0.85%</text>
<text class="s" x="359.02" y="660.00" font-size="4.9" text-anchor="middle" fill="#3a3a3a" letter-spacing="0.14">3.53%</text>
<text class="s" x="449.15" y="660.00" font-size="4.9" text-anchor="middle" fill="#3a3a3a" letter-spacing="0.14">10.42%</text>
<text class="s" x="539.28" y="660.00" font-size="4.9" text-anchor="middle" fill="#3a3a3a" letter-spacing="0.14">22.97%</text>
<text class="s" x="629.41" y="660.00" font-size="4.9" text-anchor="middle" fill="#3a3a3a" letter-spacing="0.14">30.26%</text>
<text class="s" x="719.54" y="660.00" font-size="4.9" text-anchor="middle" fill="#3a3a3a" letter-spacing="0.14">23.15%</text>
<text class="sb" x="3.90" y="671.30" font-size="5.35" fill="#111" letter-spacing="0.2" stroke="#111" stroke-width="0.15">% ACUMULADO</text>
<text class="s" x="178.76" y="670.05" font-size="4.9" text-anchor="middle" fill="#3a3a3a" letter-spacing="0.14">8.82%</text>
<text class="s" x="268.89" y="670.05" font-size="4.9" text-anchor="middle" fill="#3a3a3a" letter-spacing="0.14">9.67%</text>
<text class="s" x="359.02" y="670.05" font-size="4.9" text-anchor="middle" fill="#3a3a3a" letter-spacing="0.14">13.20%</text>
<text class="s" x="449.15" y="670.05" font-size="4.9" text-anchor="middle" fill="#3a3a3a" letter-spacing="0.14">23.62%</text>
<text class="s" x="539.28" y="670.05" font-size="4.9" text-anchor="middle" fill="#3a3a3a" letter-spacing="0.14">46.59%</text>
<text class="s" x="629.41" y="670.05" font-size="4.9" text-anchor="middle" fill="#3a3a3a" letter-spacing="0.14">76.85%</text>
<text class="s" x="719.54" y="670.05" font-size="4.9" text-anchor="middle" fill="#3a3a3a" letter-spacing="0.14">100.00%</text>
<rect x="3.40" y="681.70" width="761.20" height="32.60" fill="#D9D9D9" stroke="none" stroke-width="1" />
<rect x="3.40" y="714.30" width="761.20" height="39.80" fill="#fff" stroke="none" stroke-width="1" />
<line x1="3.40" y1="714.30" x2="764.60" y2="714.30" stroke="#111" stroke-width="1.05" />
<line x1="3.40" y1="724.20" x2="764.60" y2="724.20" stroke="#111" stroke-width="1.05" />
<line x1="3.40" y1="734.30" x2="764.60" y2="734.30" stroke="#111" stroke-width="1.05" />
<line x1="3.40" y1="744.20" x2="764.60" y2="744.20" stroke="#111" stroke-width="1.05" />
<line x1="133.70" y1="692.70" x2="764.60" y2="692.70" stroke="#111" stroke-width="1.05" />
<line x1="133.70" y1="704.10" x2="764.60" y2="704.10" stroke="#111" stroke-width="1.05" />
<line x1="133.70" y1="681.70" x2="133.70" y2="734.30" stroke="#111" stroke-width="1.05" />
<line x1="133.70" y1="734.30" x2="133.70" y2="754.10" stroke="#111" stroke-width="1.05" stroke-dasharray="3.2 1.6" stroke-dashoffset="1.2"/>
<line x1="223.83" y1="692.70" x2="223.83" y2="754.10" stroke="#111" stroke-width="1.05" />
<line x1="313.96" y1="692.70" x2="313.96" y2="754.10" stroke="#111" stroke-width="1.05" />
<line x1="404.09" y1="692.70" x2="404.09" y2="754.10" stroke="#111" stroke-width="1.05" />
<line x1="494.21" y1="692.70" x2="494.21" y2="754.10" stroke="#111" stroke-width="1.05" />
<line x1="584.34" y1="692.70" x2="584.34" y2="754.10" stroke="#111" stroke-width="1.05" />
<line x1="674.47" y1="692.70" x2="674.47" y2="754.10" stroke="#111" stroke-width="1.05" />
<rect x="3.40" y="681.70" width="761.20" height="72.40" fill="none" stroke="#222" stroke-width="1.15" />
<text class="sb" x="65.55" y="699.60" font-size="5.7" text-anchor="middle" fill="#222" letter-spacing="0.3" stroke="#222" stroke-width="0.2">DESCRIPCION</text>
<text class="sb" x="450.65" y="688.80" font-size="5.7" text-anchor="middle" fill="#222" letter-spacing="0.3" stroke="#222" stroke-width="0.2">RESUMEN DE AVANCE FINANCIERO EJECUTADO - EXPEDIENTE + MODIFICACIONES</text>
<text class="sb" x="178.76" y="699.90" font-size="6.2" text-anchor="middle" fill="#222" letter-spacing="0.1" stroke="#222" stroke-width="0.12">MARZO 2015</text>
<text class="sb" x="178.76" y="710.80" font-size="6.2" text-anchor="middle" fill="#222" letter-spacing="0.1" stroke="#222" stroke-width="0.12">MES 01</text>
<text class="sb" x="268.89" y="699.90" font-size="6.2" text-anchor="middle" fill="#222" letter-spacing="0.1" stroke="#222" stroke-width="0.12">ABRIL 2015</text>
<text class="sb" x="268.89" y="710.80" font-size="6.2" text-anchor="middle" fill="#222" letter-spacing="0.1" stroke="#222" stroke-width="0.12">MES 02</text>
<text class="sb" x="359.02" y="699.90" font-size="6.2" text-anchor="middle" fill="#222" letter-spacing="0.1" stroke="#222" stroke-width="0.12">MAYO 2015</text>
<text class="sb" x="359.02" y="710.80" font-size="6.2" text-anchor="middle" fill="#222" letter-spacing="0.1" stroke="#222" stroke-width="0.12">MES 03</text>
<text class="sb" x="449.15" y="699.90" font-size="6.2" text-anchor="middle" fill="#222" letter-spacing="0.1" stroke="#222" stroke-width="0.12">JUNIO 2015</text>
<text class="sb" x="449.15" y="710.80" font-size="6.2" text-anchor="middle" fill="#222" letter-spacing="0.1" stroke="#222" stroke-width="0.12">MES 04</text>
<text class="sb" x="539.28" y="699.90" font-size="6.2" text-anchor="middle" fill="#222" letter-spacing="0.1" stroke="#222" stroke-width="0.12">JULIO 2015</text>
<text class="sb" x="539.28" y="710.80" font-size="6.2" text-anchor="middle" fill="#222" letter-spacing="0.1" stroke="#222" stroke-width="0.12">MES 05</text>
<text class="sb" x="629.41" y="699.90" font-size="6.2" text-anchor="middle" fill="#222" letter-spacing="0.1" stroke="#222" stroke-width="0.12">AGOSTO 2015</text>
<text class="sb" x="629.41" y="710.80" font-size="6.2" text-anchor="middle" fill="#222" letter-spacing="0.1" stroke="#222" stroke-width="0.12">MES 06</text>
<text class="sb" x="719.54" y="699.90" font-size="6.2" text-anchor="middle" fill="#222" letter-spacing="0.1" stroke="#222" stroke-width="0.12">SEPTIEMBRE 2015</text>
<text class="sb" x="719.54" y="710.80" font-size="6.2" text-anchor="middle" fill="#222" letter-spacing="0.1" stroke="#222" stroke-width="0.12">MES 07</text>
<text class="sb" x="3.90" y="720.35" font-size="5.35" fill="#111" letter-spacing="0.2" stroke="#111" stroke-width="0.15">MONTO PARCIAL</text>
<text class="s" x="178.76" y="719.70" font-size="4.9" text-anchor="middle" fill="#3a3a3a" letter-spacing="0.14">S/. 221,499.70</text>
<text class="s" x="268.89" y="719.70" font-size="4.9" text-anchor="middle" fill="#3a3a3a" letter-spacing="0.14">S/. 156,469.17</text>
<text class="s" x="359.02" y="719.70" font-size="4.9" text-anchor="middle" fill="#3a3a3a" letter-spacing="0.14">S/. 208,834.74</text>
<text class="s" x="449.15" y="719.70" font-size="4.9" text-anchor="middle" fill="#3a3a3a" letter-spacing="0.14">S/. 213,346.36</text>
<text class="s" x="539.28" y="719.70" font-size="4.9" text-anchor="middle" fill="#3a3a3a" letter-spacing="0.14">S/. 300,777.20</text>
<text class="s" x="629.41" y="719.70" font-size="4.9" text-anchor="middle" fill="#3a3a3a" letter-spacing="0.14">S/. 263,558.04</text>
<text class="sb" x="3.90" y="730.95" font-size="5.35" fill="#111" letter-spacing="0.2" stroke="#111" stroke-width="0.15">MONTO ACUMULADO</text>
<text class="s" x="178.76" y="729.70" font-size="4.9" text-anchor="middle" fill="#3a3a3a" letter-spacing="0.14">S/. 221,499.70</text>
<text class="s" x="268.89" y="729.70" font-size="4.9" text-anchor="middle" fill="#3a3a3a" letter-spacing="0.14">S/. 377,968.87</text>
<text class="s" x="359.02" y="729.70" font-size="4.9" text-anchor="middle" fill="#3a3a3a" letter-spacing="0.14">S/. 586,803.61</text>
<text class="s" x="449.15" y="729.70" font-size="4.9" text-anchor="middle" fill="#3a3a3a" letter-spacing="0.14">S/. 800,149.97</text>
<text class="s" x="539.28" y="729.70" font-size="4.9" text-anchor="middle" fill="#3a3a3a" letter-spacing="0.14">S/. 1,100,927.17</text>
<text class="s" x="629.41" y="729.70" font-size="4.9" text-anchor="middle" fill="#3a3a3a" letter-spacing="0.14">S/. 1,364,485.21</text>
<text class="sb" x="3.90" y="740.95" font-size="5.35" fill="#111" letter-spacing="0.2" stroke="#111" stroke-width="0.15">% PARCIAL</text>
<text class="s" x="178.76" y="739.70" font-size="4.9" text-anchor="middle" fill="#3a3a3a" letter-spacing="0.14">7.83%</text>
<text class="s" x="268.89" y="739.70" font-size="4.9" text-anchor="middle" fill="#3a3a3a" letter-spacing="0.14">5.53%</text>
<text class="s" x="359.02" y="739.70" font-size="4.9" text-anchor="middle" fill="#3a3a3a" letter-spacing="0.14">7.38%</text>
<text class="s" x="449.15" y="739.70" font-size="4.9" text-anchor="middle" fill="#3a3a3a" letter-spacing="0.14">7.54%</text>
<text class="s" x="539.28" y="739.70" font-size="4.9" text-anchor="middle" fill="#3a3a3a" letter-spacing="0.14">10.63%</text>
<text class="s" x="629.41" y="739.70" font-size="4.9" text-anchor="middle" fill="#3a3a3a" letter-spacing="0.14">9.31%</text>
<text class="sb" x="3.90" y="750.85" font-size="5.35" fill="#111" letter-spacing="0.2" stroke="#111" stroke-width="0.15">% ACUMULADO</text>
<text class="s" x="178.76" y="749.60" font-size="4.9" text-anchor="middle" fill="#3a3a3a" letter-spacing="0.14">7.83%</text>
<text class="s" x="268.89" y="749.60" font-size="4.9" text-anchor="middle" fill="#3a3a3a" letter-spacing="0.14">13.35%</text>
<text class="s" x="359.02" y="749.60" font-size="4.9" text-anchor="middle" fill="#3a3a3a" letter-spacing="0.14">20.73%</text>
<text class="s" x="449.15" y="749.60" font-size="4.9" text-anchor="middle" fill="#3a3a3a" letter-spacing="0.14">28.27%</text>
<text class="s" x="539.28" y="749.60" font-size="4.9" text-anchor="middle" fill="#3a3a3a" letter-spacing="0.14">38.89%</text>
<text class="s" x="629.41" y="749.60" font-size="4.9" text-anchor="middle" fill="#3a3a3a" letter-spacing="0.14">48.20%</text>
<rect x="48.60" y="761.30" width="648.50" height="278.70" fill="#FDF1DC" stroke="none" stroke-width="1" />
<rect x="48.60" y="761.30" width="648.50" height="278.70" fill="#fff" stroke="none" stroke-width="0" filter="url(#tex)"/>
<rect x="48.60" y="761.30" width="648.50" height="278.70" fill="none" stroke="#2F5D9C" stroke-width="2.0" />
<line x1="108.50" y1="789.40" x2="683.00" y2="789.40" stroke="#868686" stroke-width="1.0" />
<text class="sb" x="106.80" y="790.90" font-size="7.1" text-anchor="end" textLength="28.60" lengthAdjust="spacingAndGlyphs" fill="#222"  stroke="#222" stroke-width="0.15">120.00%</text>
<line x1="108.50" y1="829.56" x2="683.00" y2="829.56" stroke="#868686" stroke-width="1.0" />
<text class="sb" x="106.80" y="831.06" font-size="7.1" text-anchor="end" textLength="28.60" lengthAdjust="spacingAndGlyphs" fill="#222"  stroke="#222" stroke-width="0.15">100.00%</text>
<line x1="108.50" y1="869.72" x2="683.00" y2="869.72" stroke="#868686" stroke-width="1.0" />
<text class="sb" x="106.80" y="871.22" font-size="7.1" text-anchor="end" textLength="24.60" lengthAdjust="spacingAndGlyphs" fill="#222"  stroke="#222" stroke-width="0.15">80.00%</text>
<line x1="108.50" y1="909.88" x2="683.00" y2="909.88" stroke="#868686" stroke-width="1.0" />
<text class="sb" x="106.80" y="911.38" font-size="7.1" text-anchor="end" textLength="24.60" lengthAdjust="spacingAndGlyphs" fill="#222"  stroke="#222" stroke-width="0.15">60.00%</text>
<line x1="108.50" y1="950.04" x2="683.00" y2="950.04" stroke="#868686" stroke-width="1.0" />
<text class="sb" x="106.80" y="951.54" font-size="7.1" text-anchor="end" textLength="24.60" lengthAdjust="spacingAndGlyphs" fill="#222"  stroke="#222" stroke-width="0.15">40.00%</text>
<line x1="108.50" y1="990.20" x2="683.00" y2="990.20" stroke="#868686" stroke-width="1.0" />
<text class="sb" x="106.80" y="991.70" font-size="7.1" text-anchor="end" textLength="24.60" lengthAdjust="spacingAndGlyphs" fill="#222"  stroke="#222" stroke-width="0.15">20.00%</text>
<line x1="108.50" y1="1030.36" x2="683.00" y2="1030.36" stroke="#868686" stroke-width="1.0" />
<text class="sb" x="106.80" y="1031.86" font-size="7.1" text-anchor="end" textLength="24.60" lengthAdjust="spacingAndGlyphs" fill="#222"  stroke="#222" stroke-width="0.15">0.00%</text>
<line x1="111.00" y1="789.40" x2="111.00" y2="1040.00" stroke="#868686" stroke-width="1.0" />
<line x1="182.50" y1="789.40" x2="182.50" y2="1040.00" stroke="#868686" stroke-width="1.0" />
<line x1="254.00" y1="789.40" x2="254.00" y2="1040.00" stroke="#868686" stroke-width="1.0" />
<line x1="325.50" y1="789.40" x2="325.50" y2="1040.00" stroke="#868686" stroke-width="1.0" />
<line x1="397.00" y1="789.40" x2="397.00" y2="1040.00" stroke="#868686" stroke-width="1.0" />
<line x1="468.50" y1="789.40" x2="468.50" y2="1040.00" stroke="#868686" stroke-width="1.0" />
<line x1="540.00" y1="789.40" x2="540.00" y2="1040.00" stroke="#868686" stroke-width="1.0" />
<line x1="611.50" y1="789.40" x2="611.50" y2="1040.00" stroke="#868686" stroke-width="1.0" />
<line x1="683.00" y1="789.40" x2="683.00" y2="1040.00" stroke="#868686" stroke-width="1.0" />
<text class="sb" font-size="10" fill="#222" stroke="#222" stroke-width="0.2" text-anchor="middle" textLength="105.6" lengthAdjust="spacingAndGlyphs" transform="translate(67.2,928.5) rotate(-90)">AVANCE PORCENTUAL</text>
<rect x="201.20" y="775.80" width="335.60" height="23.50" fill="url(#tb)" stroke="#2A52D8" stroke-width="1.2" rx="0.6"/>
<text class="rb" x="204.60" y="791.90" font-size="15" textLength="324.40" lengthAdjust="spacingAndGlyphs" fill="#05050f"  stroke="#05050f" stroke-width="0.2">CURVA DE CONTROL "S" MONTOS EJECUTADOS</text>
<path d="M146.75,1030.30 C158.67,1027.68 194.42,1019.05 218.25,1014.58 C242.08,1010.11 265.92,1007.81 289.75,1003.49 C313.58,999.18 337.42,993.67 361.25,988.67 C385.08,983.68 408.92,979.61 432.75,973.53 C456.58,967.46 480.42,958.88 504.25,952.21 C528.08,945.54 563.83,936.63 575.75,933.51" fill="none" stroke="#1C7ACB" stroke-width="1.6"/>
<path d="M146.75,1030.30 C158.67,1027.35 194.42,1015.83 218.25,1012.59 C242.08,1009.35 265.92,1012.35 289.75,1010.88 C313.58,1009.42 337.42,1008.46 361.25,1003.79 C385.08,999.13 408.92,994.05 432.75,982.87 C456.58,971.70 480.42,954.56 504.25,936.75 C528.08,918.93 551.92,893.86 575.75,875.99 C599.58,858.11 635.33,837.25 647.25,829.50" fill="none" stroke="#FF2A2A" stroke-width="1.3"/>
<path d="M218.05,1010.98 L219.95,1015.78 L216.15,1015.78Z" fill="#1C7ACB"/>
<path d="M289.55,999.89 L291.45,1004.69 L287.65,1004.69Z" fill="#1C7ACB"/>
<path d="M361.05,985.07 L362.95,989.87 L359.15,989.87Z" fill="#1C7ACB"/>
<path d="M432.55,969.93 L434.45,974.73 L430.65,974.73Z" fill="#1C7ACB"/>
<path d="M504.05,948.61 L505.95,953.41 L502.15,953.41Z" fill="#1C7ACB"/>
<path d="M575.55,929.91 L577.45,934.71 L573.65,934.71Z" fill="#1C7ACB"/>
<path d="M218.25,1010.09 L220.75,1012.59 L218.25,1015.09 L215.75,1012.59Z" fill="#FF1010"/>
<path d="M289.75,1008.38 L292.25,1010.88 L289.75,1013.38 L287.25,1010.88Z" fill="#FF1010"/>
<path d="M361.25,1001.29 L363.75,1003.79 L361.25,1006.29 L358.75,1003.79Z" fill="#FF1010"/>
<path d="M432.75,980.37 L435.25,982.87 L432.75,985.37 L430.25,982.87Z" fill="#FF1010"/>
<path d="M504.25,934.25 L506.75,936.75 L504.25,939.25 L501.75,936.75Z" fill="#FF1010"/>
<path d="M575.75,873.49 L578.25,875.99 L575.75,878.49 L573.25,875.99Z" fill="#FF1010"/>
<path d="M647.25,827.00 L649.75,829.50 L647.25,832.00 L644.75,829.50Z" fill="#FF1010"/>
<text class="sb" x="207.70" y="1007.20" font-size="5.6" textLength="16.90" lengthAdjust="spacingAndGlyphs" fill="#FF1515"  stroke="#FF1515" stroke-width="0.22">8.82%</text>
<text class="sb" x="278.00" y="1005.80" font-size="5.6" textLength="16.60" lengthAdjust="spacingAndGlyphs" fill="#FF1515"  stroke="#FF1515" stroke-width="0.22">9.67%</text>
<text class="sb" x="346.50" y="998.10" font-size="5.6" textLength="20.30" lengthAdjust="spacingAndGlyphs" fill="#FF1515"  stroke="#FF1515" stroke-width="0.22">13.20%</text>
<text class="sb" x="418.00" y="978.00" font-size="5.6" textLength="20.00" lengthAdjust="spacingAndGlyphs" fill="#FF1515"  stroke="#FF1515" stroke-width="0.22">23.62%</text>
<text class="sb" x="486.50" y="931.50" font-size="5.6" textLength="20.00" lengthAdjust="spacingAndGlyphs" fill="#FF1515"  stroke="#FF1515" stroke-width="0.22">46.59%</text>
<text class="sb" x="562.50" y="871.00" font-size="5.6" textLength="20.00" lengthAdjust="spacingAndGlyphs" fill="#FF1515"  stroke="#FF1515" stroke-width="0.22">76.85%</text>
<text class="sb" x="637.50" y="825.50" font-size="5.6" textLength="23.50" lengthAdjust="spacingAndGlyphs" fill="#FF1515"  stroke="#FF1515" stroke-width="0.22">100.00%</text>
<text class="sb" x="220.20" y="1018.40" font-size="5.6" textLength="16.30" lengthAdjust="spacingAndGlyphs" fill="#1F3864"  stroke="#1F3864" stroke-width="0.22">7.83%</text>
<text class="sb" x="291.30" y="1005.20" font-size="5.6" textLength="20.30" lengthAdjust="spacingAndGlyphs" fill="#1F3864"  stroke="#1F3864" stroke-width="0.22">13.35%</text>
<text class="sb" x="364.40" y="991.30" font-size="5.6" textLength="20.00" lengthAdjust="spacingAndGlyphs" fill="#1F3864"  stroke="#1F3864" stroke-width="0.22">20.73%</text>
<text class="sb" x="434.00" y="977.00" font-size="5.6" textLength="20.00" lengthAdjust="spacingAndGlyphs" fill="#1F3864"  stroke="#1F3864" stroke-width="0.22">28.27%</text>
<text class="sb" x="500.50" y="956.00" font-size="5.6" textLength="19.50" lengthAdjust="spacingAndGlyphs" fill="#1F3864"  stroke="#1F3864" stroke-width="0.22">38.89%</text>
<text class="sb" x="569.00" y="938.00" font-size="5.6" textLength="20.00" lengthAdjust="spacingAndGlyphs" fill="#1F3864"  stroke="#1F3864" stroke-width="0.22">48.20%</text>
<rect x="470.00" y="981.20" width="210.80" height="58.80" fill="#fff" stroke="#222" stroke-width="1.0" />
<line x1="487.00" y1="1003.60" x2="499.00" y2="1003.60" stroke="#FF1010" stroke-width="1.2" />
<path d="M493.00,999.60 L497.00,1003.60 L493.00,1007.60 L489.00,1003.60Z" fill="#FF1010"/>
<text class="sb" x="502.00" y="1006.00" font-size="10" textLength="70.60" lengthAdjust="spacingAndGlyphs" fill="#111"  stroke="#111" stroke-width="0.15">PROGRAMADO</text>
<line x1="593.50" y1="1004.60" x2="607.00" y2="1004.60" stroke="#1C7ACB" stroke-width="1.4" />
<path d="M600.4,1000.0 L602.0,1004.5 L604.6,1008.0 L596.2,1008.0 L598.8,1004.5Z" fill="#1C7ACB"/>
<text class="sb" x="609.50" y="1006.00" font-size="10" textLength="54.50" lengthAdjust="spacingAndGlyphs" fill="#111"  stroke="#111" stroke-width="0.15">EJECUTADO</text>
</g>
</svg></body></html>
